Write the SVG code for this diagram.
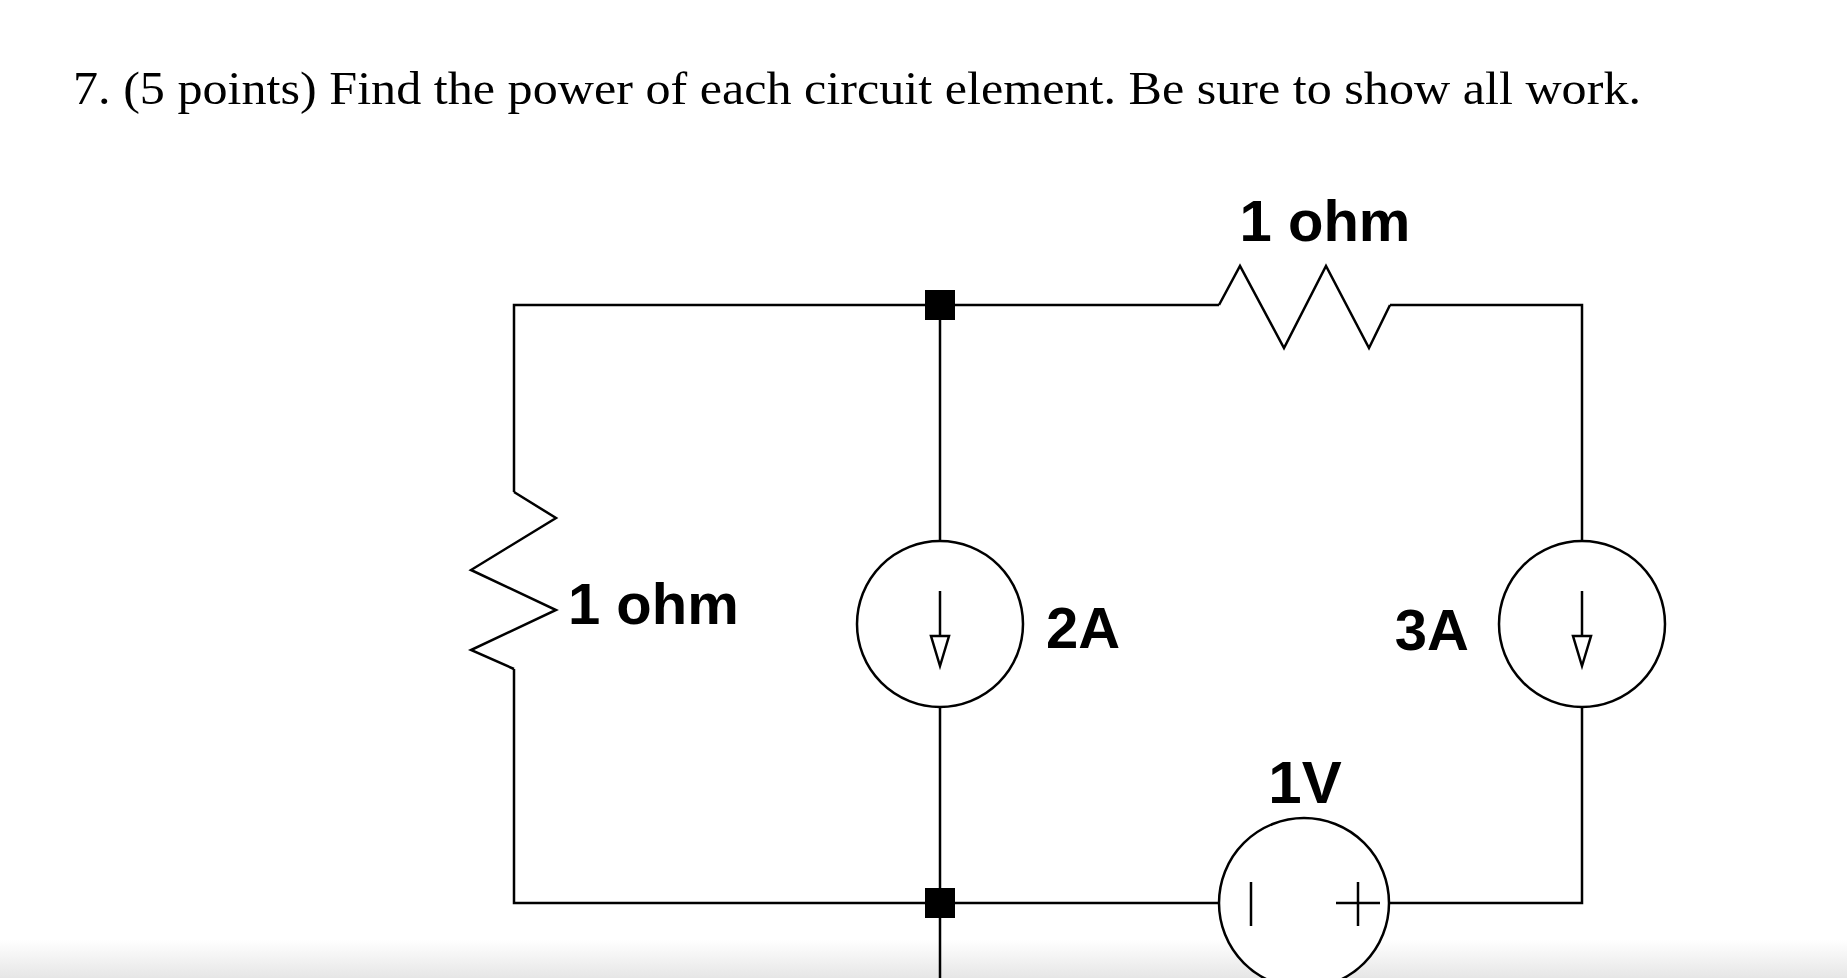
<svg xmlns="http://www.w3.org/2000/svg" width="1847" height="978" viewBox="0 0 1847 978">
<defs>
<style>
.w{stroke:#000;stroke-width:2.5;fill:none}
.c{stroke:#000;stroke-width:2.5;fill:#fff}
.lbl{font-family:"Liberation Sans",Arial,sans-serif;font-weight:bold;fill:#000}
</style>
<linearGradient id="g" x1="0" y1="0" x2="0" y2="1"><stop offset="0" stop-color="#fff"/><stop offset="1" stop-color="#e6e6e6"/></linearGradient>
</defs>
<rect width="1847" height="978" fill="#fff"/>
<rect x="0" y="940" width="1847" height="38" fill="url(#g)"/>
<text x="73" y="104" font-family="Liberation Serif,'Times New Roman',serif" font-size="47" textLength="1568" lengthAdjust="spacingAndGlyphs">7.  (5 points)  Find the power of each circuit element.  Be sure to show all work.</text>
<g id="wires">
<polyline class="w" points="940,305 514,305 514,492"/>
<polyline class="w" points="514,669 514,903 940,903"/>
<line class="w" x1="940" y1="305" x2="1219" y2="305"/>
<polyline class="w" points="1390,305 1582,305 1582,541"/>
<polyline class="w" points="1582,707 1582,903 1389,903"/>
<line class="w" x1="940" y1="903" x2="1218" y2="903"/>
<line class="w" x1="940" y1="305" x2="940" y2="541"/>
<line class="w" x1="940" y1="707" x2="940" y2="978"/>
</g>
<g id="R_top"><polyline class="w" points="1219,305 1240,266 1284,348 1326,266 1369,348 1390,305"/>
<text class="lbl" x="1325" y="241" font-size="58" text-anchor="middle">1 ohm</text></g>
<g id="R_left"><polyline class="w" points="514,492 556,518 471,570 556,610 471,650 514,669"/>
<text class="lbl" x="568" y="624" font-size="58">1 ohm</text></g>
<g id="I2"><ellipse class="c" cx="940" cy="624" rx="83" ry="83"/>
<line class="w" x1="940" y1="591" x2="940" y2="636"/><polygon class="c" points="931,636 949,636 940,666"/>
<text class="lbl" x="1046" y="648" font-size="58">2A</text></g>
<g id="I3"><ellipse class="c" cx="1582" cy="624" rx="83" ry="83"/>
<line class="w" x1="1582" y1="591" x2="1582" y2="636"/><polygon class="c" points="1573,636 1591,636 1582,666"/>
<text class="lbl" x="1469" y="650" font-size="58" text-anchor="end">3A</text></g>
<g id="V1"><circle class="c" cx="1304" cy="903" r="85"/>
<line class="w" x1="1251" y1="882" x2="1251" y2="926"/>
<line class="w" x1="1336" y1="903" x2="1380" y2="903"/><line class="w" x1="1358" y1="882" x2="1358" y2="926"/>
<text class="lbl" x="1305" y="803" font-size="60" text-anchor="middle">1V</text></g>
<g id="nodes"><rect x="925" y="290" width="30" height="30"/><rect x="925" y="888" width="30" height="30"/></g>
</svg>
